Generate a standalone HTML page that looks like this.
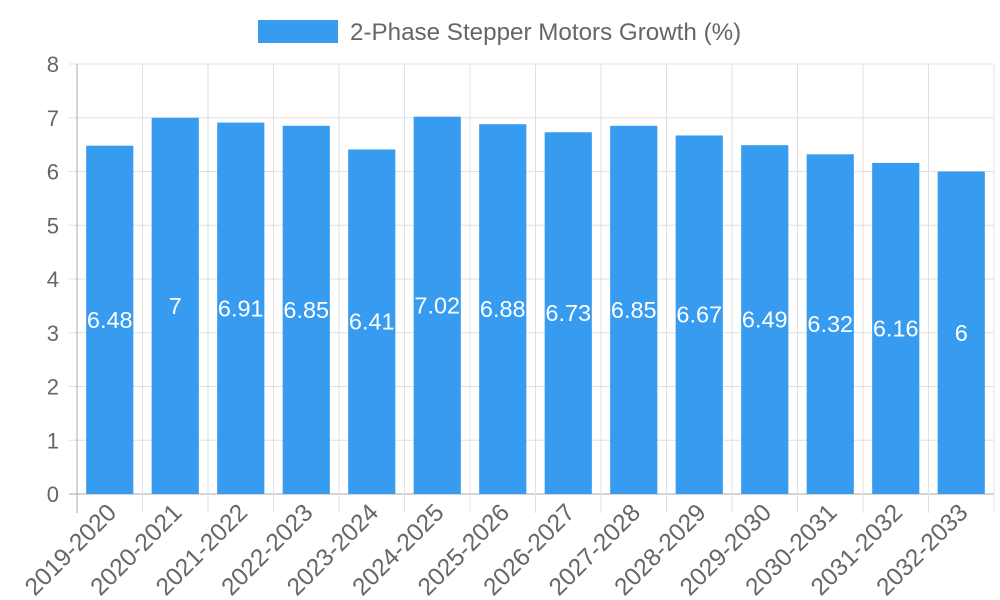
<!DOCTYPE html>
<html><head><meta charset="utf-8"><style>
body{margin:0;background:#fff;}
svg{display:block;font-family:"Liberation Sans",sans-serif;}
</style></head><body>
<svg id="chart" width="1000" height="600">
<rect x="258" y="20" width="80" height="23" fill="#379cf0"/>
<text x="350" y="40" font-size="24.2" fill="#666">2-Phase Stepper Motors Growth (%)</text>
<g id="grid"></g><g id="bars"></g><g id="labels"></g>
</svg>
<script>
const categories=["2019-2020","2020-2021","2021-2022","2022-2023","2023-2024","2024-2025","2025-2026","2026-2027","2027-2028","2028-2029","2029-2030","2030-2031","2031-2032","2032-2033"];
const values=[6.48,7,6.91,6.85,6.41,7.02,6.88,6.73,6.85,6.67,6.49,6.32,6.16,6];
const yTicks=[0,1,2,3,4,5,6,7,8];
const NS="http://www.w3.org/2000/svg";
const X0=77,X1=994,Y0=494,Y1=64,YMAX=8;
const band=(X1-X0)/categories.length;
const y=v=>Y0-(v/YMAX)*(Y0-Y1);
const xc=i=>X0+band*(i+0.5);
function mk(tag,attrs,parent){const e=document.createElementNS(NS,tag);for(const k in attrs)e.setAttribute(k,attrs[k]);parent.appendChild(e);return e;}
const grid=document.getElementById('grid'),bars=document.getElementById('bars'),labels=document.getElementById('labels');
yTicks.forEach(t=>{
  const l=mk('line',{x1:69,x2:X1,y1:y(t),y2:y(t),stroke:t===0?'#aaa':'#e0e0e0','stroke-width':1},grid);
  
  
  const tx=mk('text',{x:59,y:y(t)+8,'font-size':22,fill:'#666','text-anchor':'end'},grid);
  tx.textContent=t;
  
  
});
for(let i=0;i<=categories.length;i++){
  const x=X0+band*i;
  const l=mk('line',{x1:x,x2:x,y1:Y1,y2:513,stroke:i===0?'#aaa':'#e0e0e0','stroke-width':1},grid);
  
  
}
categories.forEach((c,i)=>{
  const w=band*0.72;
  const r=mk('rect',{x:xc(i)-w/2,y:y(values[i]),width:w,height:Y0-y(values[i]),fill:'#379cf0'},bars);
  
  
  const v=mk('text',{x:xc(i),y:(y(values[i])+Y0)/2+8,'font-size':23.5,fill:'#fff','text-anchor':'middle'},labels);
  v.textContent=values[i];
  
  
  const px=xc(i)+8,py=514;
  const t=mk('text',{x:px,y:py,'font-size':24.5,fill:'#666','text-anchor':'end',transform:`rotate(-45 ${px} ${py})`},labels);
  t.textContent=c;
  
  
});
</script>
</body></html>
